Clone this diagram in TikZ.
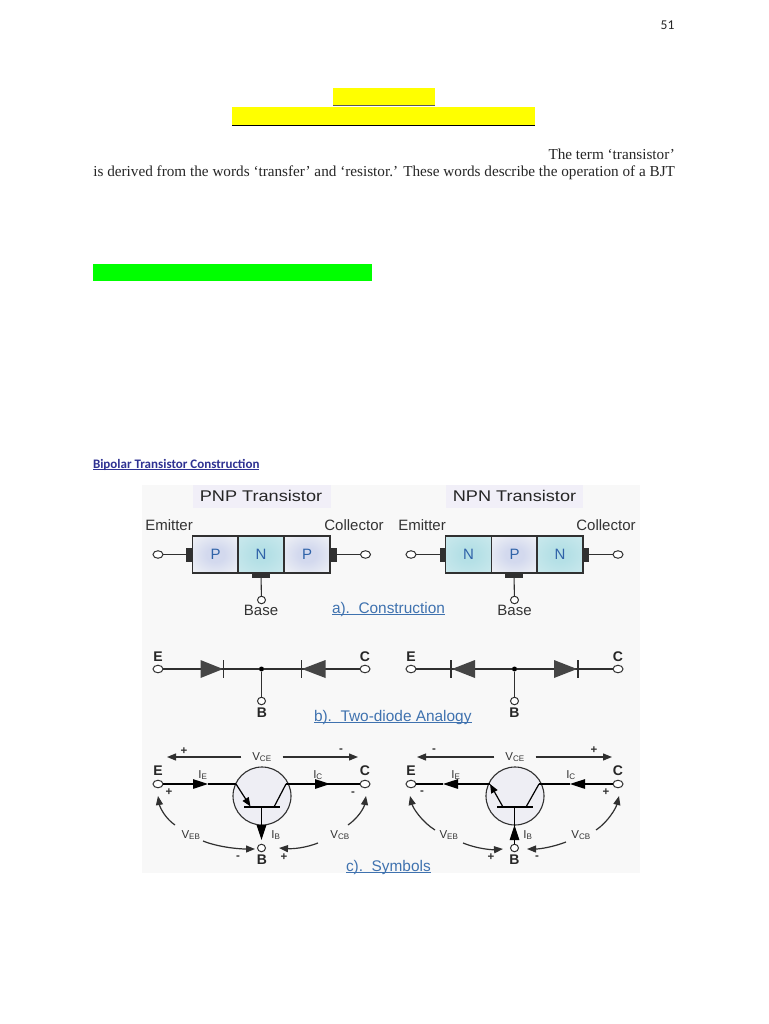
\documentclass[tikz,border=0pt]{standalone}
\usepackage{fontspec}
\usepackage{graphicx}
\setmainfont{Liberation Serif}
\newfontfamily\arialf{Liberation Sans}
\newfontfamily\calibf{Carlito}
\usetikzlibrary{arrows.meta,calc,shapes.geometric}
\definecolor{capblue}{HTML}{3F72AF}
\definecolor{pagebg}{HTML}{F8F8F8}
\definecolor{titlebg}{HTML}{F1EFF8}
\definecolor{letblue}{HTML}{2F62A8}
\definecolor{diag}{HTML}{303030}
\definecolor{headblue}{HTML}{2E3192}
\definecolor{HPcentre}{HTML}{D3D9EE}
\definecolor{HPouter}{HTML}{F1F3F6}
\definecolor{HNcentre}{HTML}{B5E0E6}
\definecolor{HNouter}{HTML}{CBE9ED}
\definecolor{bulb}{HTML}{EEEEF4}
\definecolor{hlyellow}{RGB}{255,255,0}
\definecolor{hlgreen}{RGB}{0,255,0}
\pgfdeclareradialshading{pshade}{\pgfpoint{0bp}{0bp}}{color(0bp)=(HPcentre); color(10bp)=(HPcentre); color(36bp)=(HPouter); color(50bp)=(HPouter)}
\pgfdeclareradialshading{nshade}{\pgfpoint{0bp}{0bp}}{color(0bp)=(HNcentre); color(10bp)=(HNcentre); color(36bp)=(HNouter); color(50bp)=(HNouter)}
\tikzset{
  every node/.style={inner sep=0pt,outer sep=0pt},
  wire/.style={draw=diag,line width=1.1pt},
  term/.style={ellipse,draw=diag,fill=white,line width=1pt,minimum width=10pt,minimum height=7.5pt},
  dotnode/.style={circle,fill=black,minimum size=5pt},
  pcell/.style={rectangle,draw=diag,line width=1.2pt,minimum height=37pt,shading=pshade,text=letblue,font=\arialf\fontsize{15}{16}\selectfont},
  ncell/.style={rectangle,draw=diag,line width=1.2pt,minimum height=37pt,shading=nshade,text=letblue,font=\arialf\fontsize{15}{16}\selectfont},
  contact/.style={rectangle,fill=diag},
  titletxt/.style={font=\arialf\fontsize{15.5}{16}\selectfont,text=black!85},
  lab/.style={font=\arialf\fontsize{15}{16}\selectfont,text=black!80},
  boldtxt/.style={font=\arialf\bfseries\fontsize{14}{15}\selectfont,text=black!85},
  smalltxt/.style={font=\arialf\fontsize{11.5}{12}\selectfont,text=black!80},
  signtxt/.style={font=\arialf\bfseries\fontsize{11.5}{12}\selectfont,text=black!80},
  captxt/.style={font=\arialf\fontsize{15.4}{17}\selectfont,text=capblue,anchor=base west},
  arr/.style={draw=diag,line width=1.2pt,-{Triangle[length=9pt,width=7pt]}},
  headarr/.style={draw=black,line width=1.1pt,-{Triangle[length=15pt,width=9.5pt]}},
  blackline/.style={draw=black,line width=1.2pt},
  diode/.style={fill=diag!90!white,draw=none},
  diodebar/.style={draw=diag,line width=1.2pt},
  doctxt/.style={font=\fontsize{15.22}{17}\selectfont,text=black!85,anchor=base east}
}
\newcommand{\underl}[1]{\setbox0=\hbox{#1}\rlap{\rule[-1.8pt]{\wd0}{0.9pt}}\box0}
\newcommand{\wideT}[1]{\scalebox{1.17}[1]{#1}}
\begin{document}
\begin{tikzpicture}[x=1pt,y=-1pt]
\useasboundingbox (0,0) rectangle (768,1024);
\fill[white] (0,0) rectangle (768,1024);

% page text
\node[font=\calibf\fontsize{13.5}{15}\selectfont,text=black!85] (pageno) at (667.5,25) {51};
\fill[hlyellow] (333,88) rectangle (435,106);
\draw[black!65,line width=0.8pt] (333,105.7) -- (435,105.7);
\fill[hlyellow] (232,107) rectangle (535,125.5);
\draw[black,line width=1.2pt] (232,125.6) -- (535,125.6);
\node[doctxt] (t1) at (675,159.5) {The term ‘transistor’};
\node[doctxt] (t2) at (675,176.5) {is derived from the words ‘transfer’ and ‘resistor.’ These words describe the operation of a BJT};
\fill[hlgreen] (93,264) rectangle (371.5,281);
\node[anchor=base west,font=\calibf\bfseries\fontsize{13}{15}\selectfont,text=headblue] (head) at (93,468) {\underl{Bipolar Transistor Construction}};

% figure background
\fill[pagebg] (142,485) rectangle (640,873);
\fill[titlebg] (193,485) rectangle (331,508);
\fill[titlebg] (446,485) rectangle (583,508);
\node[titletxt] (ptitle) at (261,495.5) {\wideT{PNP Transistor}};
\node[titletxt] (ntitle) at (514.5,495.5) {\wideT{NPN Transistor}};

% a) PNP construction
\node[lab] (pem) at (169,525) {Emitter};
\node[lab] (pco) at (354,525) {Collector};
\node[lab] (pba) at (261,610.5) {Base};
\node[contact,minimum width=6pt,minimum height=14pt] (pcl) at (189,554.5) {};
\node[contact,minimum width=6pt,minimum height=14pt] (pcr) at (333.5,554.5) {};
\node[contact,minimum width=18pt,minimum height=5pt] (pcb) at (261,575) {};
\node[pcell,minimum width=46pt] (p1) at (215.5,554.5) {P};
\node[ncell,minimum width=46pt] (p2) at (261,554.5) {N};
\node[pcell,minimum width=46pt] (p3) at (307,554.5) {P};
\node[term] (pt1) at (158,554.5) {};
\node[term] (pt2) at (365.5,554.5) {};
\node[term,minimum width=8pt] (pt3) at (261.5,600) {};
\draw[wire] (pt1) -- (pcl);
\draw[wire] (pcr) -- (pt2);
\draw[wire] (pcb) -- (pt3);
\node[captxt] (capa) at (332,613) {\underl{a).\ \ Construction}};

% a) NPN construction
\node[lab] (nem) at (422,525) {Emitter};
\node[lab] (nco) at (606,525) {Collector};
\node[lab] (nba) at (514.5,610.5) {Base};
\node[contact,minimum width=6pt,minimum height=14pt] (ncl) at (443,554.5) {};
\node[contact,minimum width=6pt,minimum height=14pt] (ncr) at (586,554.5) {};
\node[contact,minimum width=18pt,minimum height=5pt] (ncb) at (514,575) {};
\node[ncell,minimum width=46pt] (n1) at (468.5,554.5) {N};
\node[pcell,minimum width=46pt] (n2) at (514.5,554.5) {P};
\node[ncell,minimum width=46pt] (n3) at (560,554.5) {N};
\node[term] (nt1) at (411,554.5) {};
\node[term] (nt2) at (618,554.5) {};
\node[term,minimum width=8pt] (nt3) at (514.5,600) {};
\draw[wire] (nt1) -- (ncl);
\draw[wire] (ncr) -- (nt2);
\draw[wire] (ncb) -- (nt3);

% b) PNP diodes
\node[boldtxt] (bE) at (158,656.5) {E};
\node[boldtxt] (bC) at (365,656.5) {C};
\node[boldtxt] (bB) at (262,712.5) {B};
\node[term] (be) at (158,669) {};
\node[term] (bc) at (365,669) {};
\node[term,minimum width=8pt] (bb) at (261.5,701) {};
\node[dotnode] (bj) at (261.5,669) {};
\draw[wire] (be) -- (bj);
\draw[wire] (bj) -- (bc);
\draw[wire,line width=1.3pt] (bj) -- (bb);
\fill[diode] (200.5,660) -- (223,669) -- (200.5,678) -- cycle;
\draw[diodebar] (223.5,660) -- (223.5,677.5);
\fill[diode] (325.5,660) -- (302,669) -- (325.5,678) -- cycle;
\draw[diodebar] (301.5,660) -- (301.5,677.5);
\node[captxt] (capb) at (314,721.5) {\underl{b).\ \ Two-diode Analogy}};

% b) NPN diodes
\node[boldtxt] (bE2) at (411,656.5) {E};
\node[boldtxt] (bC2) at (618,657) {C};
\node[boldtxt] (bB2) at (514.5,712.5) {B};
\node[term] (be2) at (411,669) {};
\node[term] (bc2) at (618,669) {};
\node[term,minimum width=8pt] (bb2) at (514.5,701) {};
\node[dotnode] (bj2) at (514.5,669) {};
\draw[wire] (be2) -- (bj2);
\draw[wire] (bj2) -- (bc2);
\draw[wire,line width=1.3pt] (bj2) -- (bb2);
\fill[diode] (475,660) -- (452,669) -- (475,678) -- cycle;
\draw[diodebar] (451,660) -- (451,677.5);
\fill[diode] (554,660) -- (577,669) -- (554,678) -- cycle;
\draw[diodebar] (578,660) -- (578,677.5);

% c) PNP symbol
\node[smalltxt] (pvce) at (262,757) {V\textsubscript{CE}};
\coordinate (pvl) at (167,757);
\coordinate (pvr) at (358,757);
\draw[arr] ([xshift=-11pt]pvce.west) -- (pvl);
\draw[arr] ([xshift=11pt]pvce.east) -- (pvr);
\node[signtxt] (s1) at (184,751) {+};
\node[signtxt] (s2) at (341,751) {-};
\node[boldtxt] (cE) at (158,771) {E};
\node[boldtxt] (cC) at (365,771) {C};
\node[boldtxt] (cB) at (262,859.5) {B};
\node[circle,draw=diag,fill=bulb,line width=1.1pt,minimum size=58pt] (pQ) at (262,796) {};
\node[term] (pE) at (158,784) {};
\node[term] (pC) at (365,784) {};
\node[term,minimum width=8pt] (pB) at (261.5,848) {};
\coordinate (pEi) at (236,784);
\coordinate (pCi) at (286,784);
\coordinate (pEt) at (208,784);
\coordinate (pCt) at (330,784);
\draw[headarr] (pE) -- (pEt);
\draw[blackline] (pEt) -- (pEi);
\draw[blackline] (pCi) -- (pC);
\draw[headarr] (pCi) -- (pCt);
\coordinate (pb1) at (244,807);
\coordinate (pb2) at (280,807);
\draw[blackline] (pb1) -- (pb2);
\draw[blackline,-{Triangle[length=9pt,width=7pt]}] (pEi) -- (250.5,806.5);
\draw[blackline] (pCi) -- (274,807);
\coordinate (pBm) at (261.5,807);
\coordinate (pBt) at (261.5,840);
\draw[blackline,-{Triangle[length=15pt,width=9.5pt]}] (pBm) -- (pBt);
\node[smalltxt] (iE) at (203,775) {I\textsubscript{E}};
\node[smalltxt] (iC) at (318,775) {I\textsubscript{C}};
\node[smalltxt] (iB) at (276,835) {I\textsubscript{B}};
\node[smalltxt] (pveb) at (191,835) {V\textsubscript{EB}};
\node[smalltxt] (pvcb) at (340,835) {V\textsubscript{CB}};
\draw[arr] (175,825) .. controls (166,819) and (160,808) .. (158,796);
\draw[arr] (203,841) .. controls (218,847) and (238,849) .. (255,849);
\draw[arr] (348,825) .. controls (358,818) and (364,808) .. (366,796);
\draw[arr] (318,843) .. controls (305,848) and (293,849) .. (279,848);
\node[signtxt] (s3) at (169,792.5) {+};
\node[signtxt] (s4) at (353,793.5) {-};
\node[signtxt] (s5) at (238,858) {-};
\node[signtxt] (s6) at (284,857) {+};

% c) NPN symbol
\node[smalltxt] (nvce) at (515,757) {V\textsubscript{CE}};
\coordinate (nvl) at (417,757);
\coordinate (nvr) at (612,757);
\draw[arr] ([xshift=-11pt]nvce.west) -- (nvl);
\draw[arr] ([xshift=11pt]nvce.east) -- (nvr);
\node[signtxt] (s7) at (434,751) {-};
\node[signtxt] (s8) at (594,750) {+};
\node[boldtxt] (dE) at (411,771) {E};
\node[boldtxt] (dC) at (618,771) {C};
\node[boldtxt] (dB) at (514.5,859.5) {B};
\node[circle,draw=diag,fill=bulb,line width=1.1pt,minimum size=58pt] (nQ) at (515,796) {};
\node[term] (nE) at (411,784) {};
\node[term] (nC) at (618,784) {};
\node[term,minimum width=8pt] (nB) at (514.5,848) {};
\coordinate (nEi) at (490,784);
\coordinate (nCi) at (539,784);
\coordinate (nEt) at (443,784);
\coordinate (nCt) at (570,784);
\draw[blackline] (nE) -- (nEt);
\draw[headarr] (nEi) -- (nEt);
\draw[headarr] (nC) -- (nCt);
\draw[blackline] (nCt) -- (nCi);
\coordinate (nb1) at (497,807);
\coordinate (nb2) at (533,807);
\draw[blackline] (nb1) -- (nb2);
\draw[blackline,-{Triangle[length=9pt,width=7pt]}] (503,807) -- (nEi);
\draw[blackline] (526,807) -- (nCi);
\coordinate (nBm) at (514.5,807);
\coordinate (nBt) at (514.5,825);
\draw[blackline] (nBm) -- (nB);
\draw[blackline,-{Triangle[length=15pt,width=9.5pt]}] (nB) -- (nBt);
\node[smalltxt] (jE) at (456,775) {I\textsubscript{E}};
\node[smalltxt] (jC) at (571,775) {I\textsubscript{C}};
\node[smalltxt] (jB) at (528,835) {I\textsubscript{B}};
\node[smalltxt] (nveb) at (449,835) {V\textsubscript{EB}};
\node[smalltxt] (nvcb) at (581,835) {V\textsubscript{CB}};
\draw[arr] (435,830) .. controls (422,822) and (413,808) .. (410,796);
\draw[arr] (463,843) .. controls (475,848) and (490,850) .. (503,849);
\draw[arr] (566,842) .. controls (553,847) and (540,849) .. (527,849);
\draw[arr] (596,830) .. controls (608,822) and (616,808) .. (619,796);
\node[signtxt] (s9) at (422,793) {-};
\node[signtxt] (s10) at (606,792) {+};
\node[signtxt] (s11) at (491,857) {+};
\node[signtxt] (s12) at (537,858) {-};
\node[captxt] (capc) at (346,871) {\underl{c).\ \ Symbols}};
\end{tikzpicture}
\end{document}
